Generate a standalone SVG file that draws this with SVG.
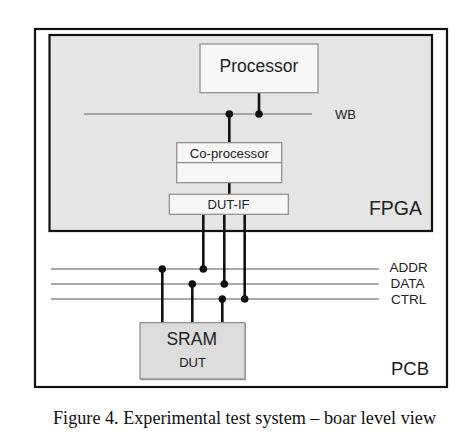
<svg xmlns="http://www.w3.org/2000/svg" width="474" height="440" viewBox="0 0 474 440">
<style>
.frame{stroke:#111;stroke-width:2.2}
.box{fill:#f7f7f7;stroke:#8a8a8a;stroke-width:1.2}
.bus{stroke:#8c8c8c;stroke-width:1.5;fill:none}
.wire{stroke:#111;stroke-width:2.6;fill:none}
.dot{fill:#111}
.t{font-family:"Liberation Sans",Arial,sans-serif;fill:#222}
.cap{font-family:"Liberation Serif","Times New Roman",serif;fill:#111}
</style>
<rect width="474" height="440" fill="#fff"/>
<g id="pcb">
<rect class="frame" x="35" y="29" width="412" height="358" fill="#fff"/>
<text class="t" x="429" y="375" font-size="18.5" text-anchor="end">PCB</text>
</g>
<g id="fpga">
<rect class="frame" x="49.5" y="35" width="382.5" height="196" fill="#e5e5e5"/>
<text class="t" x="422" y="215" font-size="19.5" text-anchor="end">FPGA</text>
</g>
<g id="buses">
<line class="bus" x1="84" y1="114" x2="312" y2="114"/>
<text class="t" x="335" y="118.5" font-size="13">WB</text>
<line class="bus" x1="51" y1="269" x2="379" y2="269"/>
<line class="bus" x1="51" y1="284" x2="379" y2="284"/>
<line class="bus" x1="51" y1="299" x2="379" y2="299"/>
<text class="t" x="389.5" y="271.5" font-size="13.5">ADDR</text>
<text class="t" x="390.5" y="288" font-size="13.5">DATA</text>
<text class="t" x="391" y="303.5" font-size="13.5">CTRL</text>
</g>
<g id="connectors">
<line class="wire" x1="259" y1="92.7" x2="259" y2="114"/>
<circle class="dot" cx="259" cy="114" r="3.8"/>
<line class="wire" x1="229.3" y1="114" x2="229.3" y2="142.7"/>
<circle class="dot" cx="229.3" cy="114" r="3.8"/>
<line class="wire" x1="229.3" y1="182.7" x2="229.3" y2="194.3"/>
<line class="wire" x1="203.3" y1="214.3" x2="203.3" y2="269"/>
<circle class="dot" cx="203.3" cy="269" r="3.8"/>
<line class="wire" x1="224.3" y1="214.3" x2="224.3" y2="284"/>
<circle class="dot" cx="224.3" cy="284" r="3.8"/>
<line class="wire" x1="244.7" y1="214.3" x2="244.7" y2="299"/>
<circle class="dot" cx="244.7" cy="299" r="3.8"/>
<line class="wire" x1="162.3" y1="269" x2="162.3" y2="322.7"/>
<circle class="dot" cx="162.3" cy="269" r="3.8"/>
<line class="wire" x1="192.3" y1="284" x2="192.3" y2="322.7"/>
<circle class="dot" cx="192.3" cy="284" r="3.8"/>
<line class="wire" x1="222.3" y1="299" x2="222.3" y2="322.7"/>
<circle class="dot" cx="222.3" cy="299" r="3.8"/>
</g>
<g id="processor">
<rect class="box" x="200" y="44" width="118" height="48.7"/>
<text class="t" x="259" y="72" font-size="17.5" text-anchor="middle">Processor</text>
</g>
<g id="coprocessor">
<rect class="box" x="176.7" y="142.7" width="105" height="40"/>
<line x1="176.7" y1="162.7" x2="281.7" y2="162.7" stroke="#8a8a8a" stroke-width="1.2"/>
<text class="t" x="229.3" y="158" font-size="13.2" text-anchor="middle">Co-processor</text>
</g>
<g id="dutif">
<rect class="box" x="169.3" y="194.3" width="119" height="20"/>
<text class="t" x="228.5" y="208.8" font-size="13" text-anchor="middle">DUT-IF</text>
</g>
<g id="sram">
<rect x="141" y="324" width="105" height="56.3" fill="#aaa"/>
<rect x="140" y="322.7" width="105" height="56.3" fill="#dcdcdc" stroke="#8a8a8a" stroke-width="1.2"/>
<text class="t" x="191.7" y="345" font-size="17.5" text-anchor="middle">SRAM</text>
<text class="t" x="192.5" y="366.5" font-size="13" text-anchor="middle">DUT</text>
</g>
<text class="cap" x="53" y="423.5" font-size="18" textLength="383" lengthAdjust="spacingAndGlyphs">Figure 4. Experimental test system – boar level view</text>
</svg>
